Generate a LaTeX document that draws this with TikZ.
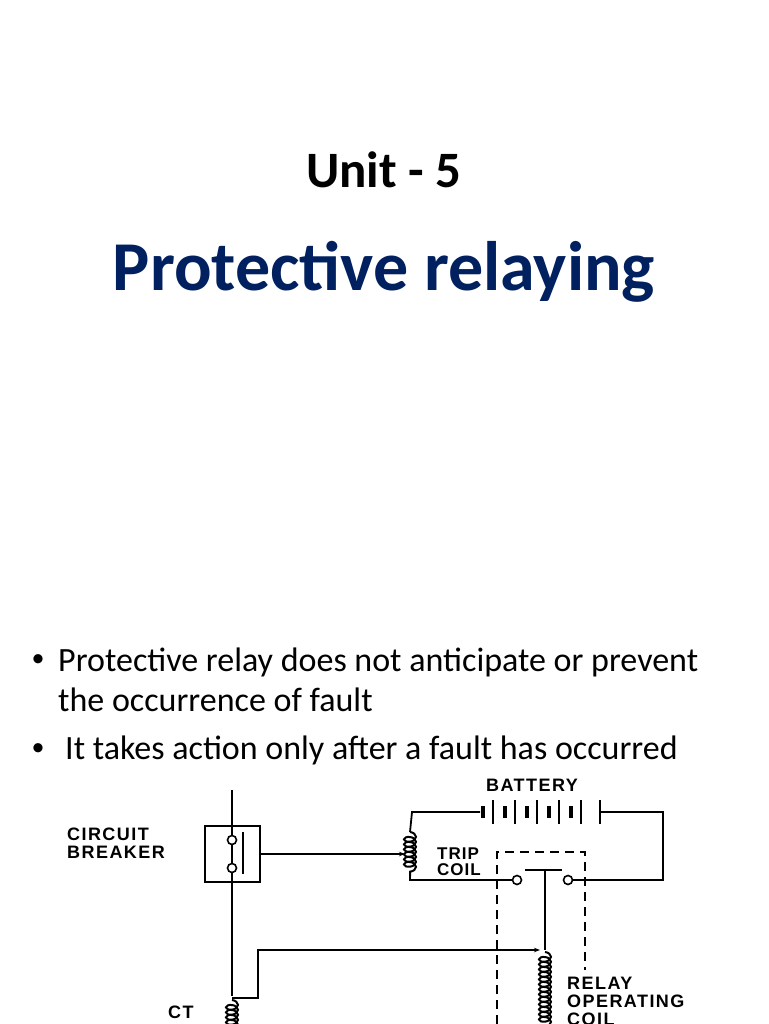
\documentclass[tikz,border=0pt]{standalone}
\usepackage{fontspec}
\setmainfont{Carlito}
\setsansfont{Liberation Sans}
\usetikzlibrary{decorations.pathmorphing,arrows.meta}
\definecolor{navy}{RGB}{0,32,96}
\begin{document}
\begin{tikzpicture}[x=1pt,y=-1pt,
  wire/.style={line width=1.8pt},
  lbl/.style={font=\sffamily\bfseries\fontsize{18}{18}\selectfont\addfontfeature{LetterSpace=8},anchor=west,inner sep=0,align=left},
  coilv/.style={line width=2pt,decorate,decoration={coil,aspect=0.6,segment length=5pt,amplitude=6pt}},
  cont/.style={circle,draw,line width=1.6pt,inner sep=0,minimum size=9pt,fill=white}]
\useasboundingbox (0,0) rectangle (768,1024);
\fill[white] (0,0) rectangle (768,1024);
\node[font=\bfseries\fontsize{51}{51}\selectfont] (unit) at (384,170) {Unit - 5};
\node[font=\bfseries\fontsize{70}{70}\selectfont,text=navy] (title) at (384,272) {Protective relaying};
\node[font=\fontsize{26}{34}\selectfont,inner sep=0] (b1) at (38,661) {•};
\node[anchor=west,font=\fontsize{34}{40}\selectfont,inner sep=0,align=left] (t1) at (58,680) {Protective relay does not anticipate or prevent\\the occurrence of fault};
\node[font=\fontsize{26}{34}\selectfont,inner sep=0] (b2) at (38,750) {•};
\node[anchor=west,font=\fontsize{34}{40}\selectfont,inner sep=0] (t2) at (65,750) {It takes action only after a fault has occurred};
% circuit
\coordinate (top) at (232,790);
\draw[wire] (top) -- (232,996);
\draw[line width=1.6pt] (205,826) rectangle (260,882);
\node[cont] (c1) at (232,840) {};
\node[cont] (c2) at (232,868) {};
\draw[line width=2pt] (243,832) -- (243,874);
\node[lbl] (cb) at (67,843) {CIRCUIT\\BREAKER};
% CB to trip coil
\coordinate (tcT) at (410,832);
\coordinate (tcB) at (410,876);
\draw[wire,-{Stealth[length=6pt]}] (260,854) -- (405,854);
\draw[coilv] (tcT) -- (tcB);
\node[lbl,font=\sffamily\bfseries\fontsize{17}{16}\selectfont\addfontfeature{LetterSpace=6}] (trip) at (437,862) {TRIP\\COIL};
% battery
\draw[wire] (tcT) -- (412,812) -- (480,812);
\foreach \x in {483,505,527,549,571}{
  \draw[line width=3.5pt] (\x,806) -- (\x,818);
  \draw[line width=1.8pt] (\x+10,800) -- (\x+10,824);}
\draw[line width=1.8pt] (600,800) -- (600,824);
\draw[wire] (600,812) -- (663,812) -- (663,880) -- (573,880);
\node[lbl] (bat) at (486,785) {BATTERY};
% relay contacts
\node[cont] (k1) at (517,880) {};
\node[cont] (k2) at (568,880) {};
\draw[wire] (tcB) -- (410,880) -- (k1);
\draw[wire] (k2) -- (663,880);
\draw[line width=2.2pt] (525,870) -- (562,870);
\draw[line width=2.2pt] (545,870) -- (545,950);
\draw[line width=1.6pt,dash pattern=on 9pt off 6pt] (497,1024) -- (497,852) -- (585,852) -- (585,970);
% relay coil
\draw[coilv] (545,952) -- (545,1030);
\draw[wire,-{Stealth[length=6pt]}] (232,998) -- (258,998) -- (258,950) -- (540,950);
\node[lbl] (relay) at (567,1001) {RELAY\\OPERATING\\COIL};
% CT
\draw[coilv] (232,1000) -- (232,1030);
\node[lbl] (ct) at (168,1012) {CT};
\end{tikzpicture}
\end{document}
